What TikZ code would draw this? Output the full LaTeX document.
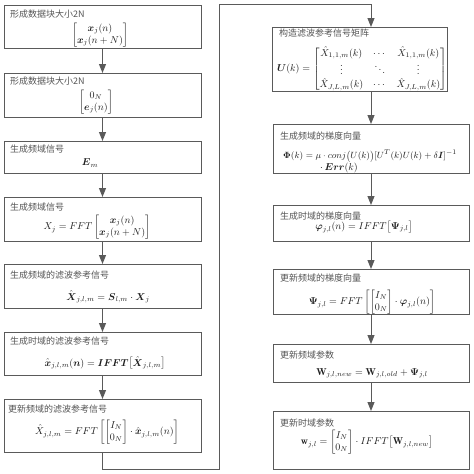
\documentclass[tikz,border=0pt]{standalone}
\usepackage{amsmath,amssymb}
\usepackage{fontspec}
\newfontfamily\cjk{Noto Sans CJK SC}
\usetikzlibrary{arrows.meta,calc}
\definecolor{lc}{RGB}{90,90,90}
\definecolor{tc}{RGB}{85,85,85}
\definecolor{fc}{RGB}{30,30,30}
\begin{document}
\begin{tikzpicture}[x=1pt,y=-1pt,
  box/.style={draw=lc, line width=1pt, anchor=north west, inner sep=0pt, outer sep=0pt, fill=white},
  ttl/.style={anchor=west, font=\cjk\fontsize{9}{10}\selectfont, text=tc, inner sep=0pt},
  fml/.style={text=fc, inner sep=0pt, font=\fontsize{10}{12}\selectfont},
  arr/.style={draw=lc, line width=1pt, -{Triangle[length=9pt,width=7pt]}}]
\useasboundingbox[fill=white] (0,0) rectangle (474,474);
% left column boxes
\node[box, minimum width=197pt, minimum height=43pt] (L1) at (4,5) {};
\node[box, minimum width=197pt, minimum height=44pt] (L2) at (4,73) {};
\node[box, minimum width=197pt, minimum height=32pt] (L3) at (4,141) {};
\node[box, minimum width=197pt, minimum height=44pt] (L4) at (4,197) {};
\node[box, minimum width=197pt, minimum height=44pt] (L5) at (4,264) {};
\node[box, minimum width=197pt, minimum height=43pt] (L6) at (4,332) {};
\node[box, minimum width=197pt, minimum height=53pt] (L7) at (4,399) {};
% right column boxes
\node[box, minimum width=175pt, minimum height=64pt] (R1) at (272,27) {};
\node[box, minimum width=196pt, minimum height=49pt] (R2) at (273,124) {};
\node[box, minimum width=196pt, minimum height=36pt] (R3) at (273,205) {};
\node[box, minimum width=196pt, minimum height=45pt] (R4) at (273,269) {};
\node[box, minimum width=196pt, minimum height=38pt] (R5) at (273,344) {};
\node[box, minimum width=196pt, minimum height=58pt] (R6) at (273,411) {};
% titles
\node[ttl] (tL1) at (10,14) {形成数据块大小2N};
\node[ttl] (tL2) at (10,81) {形成数据块大小2N};
\node[ttl] (tL3) at (10,149) {生成频域信号};
\node[ttl] (tL4) at (10,207) {生成频域信号};
\node[ttl] (tL5) at (10,275) {生成频域的滤波参考信号};
\node[ttl] (tL6) at (10,341) {生成时域的滤波参考信号};
\node[ttl] (tL7) at (8,409) {更新频域的滤波参考信号};
\node[ttl] (tR1) at (279,33) {构造滤波参考信号矩阵};
\node[ttl] (tR2) at (280,136) {生成频域的梯度向量};
\node[ttl] (tR3) at (280,216) {生成时域的梯度向量};
\node[ttl] (tR4) at (280,278) {更新频域的梯度向量};
\node[ttl] (tR5) at (280,355) {更新频域参数};
\node[ttl] (tR6) at (280,423) {更新时域参数};
% formulas
\node[fml] (fL1) at (100,35) {$\begin{bmatrix}\boldsymbol{x}_j(n)\\ \boldsymbol{x}_j(n+N)\end{bmatrix}$};
\node[fml] (fL2) at (96,102) {$\begin{bmatrix}0_N\\ \boldsymbol{e}_j(n)\end{bmatrix}$};
\node[fml] (fL3) at (90,163) {$\boldsymbol{E}_m$};
\node[fml] (fL4) at (97,227) {$X_j = FFT\begin{bmatrix}\boldsymbol{x}_j(n)\\ \boldsymbol{x}_j(n+N)\end{bmatrix}$};
\node[fml] (fL5) at (108,297) {$\hat{\boldsymbol{X}}_{j,l,m} = \boldsymbol{S}_{l,m}\cdot\boldsymbol{X}_j$};
\node[fml] (fL6) at (105,363) {$\hat{\boldsymbol{x}}_{j,l,m}(\boldsymbol{n}) = \boldsymbol{IFFT}\big[\hat{\boldsymbol{X}}_{j,l,m}\big]$};
\node[fml] (fL7) at (107,432) {$\hat{X}_{j,l,m} = FFT\left[\begin{bmatrix}I_N\\ 0_N\end{bmatrix}\cdot\hat{\boldsymbol{x}}_{j,l,m}(n)\right]$};
\node[fml] (fR1) at (362,69) {$\boldsymbol{U}(k) = \begin{bmatrix}\hat{X}_{1,1,m}(k) & \cdots & \hat{X}_{1,1,m}(k)\\ \vdots & \ddots & \vdots\\ \hat{X}_{J,L,m}(k) & \cdots & \hat{X}_{J,L,m}(k)\end{bmatrix}$};
\node[fml, font=\fontsize{9.5}{11}\selectfont] (fR2a) at (370,156) {$\boldsymbol{\Phi}(k) = \mu\cdot conj\big(U(k)\big)[U^T(k)U(k)+\delta\boldsymbol{I}]^{-1}$};
\node[fml, anchor=west] (fR2b) at (320,168) {$\cdot\,\boldsymbol{Err}(k)$};
\node[fml] (fR3) at (364,227) {$\boldsymbol{\varphi}_{j,l}(n) = IFFT\big[\boldsymbol{\Psi}_{j,l}\big]$};
\node[fml] (fR4) at (372,302) {$\boldsymbol{\Psi}_{j,l} = FFT\left[\begin{bmatrix}I_N\\ 0_N\end{bmatrix}\cdot\boldsymbol{\varphi}_{j,l}(n)\right]$};
\node[fml] (fR5) at (372,373) {$\boldsymbol{\mathrm{W}}_{j,l,new} = \boldsymbol{\mathrm{W}}_{j,l,old} + \boldsymbol{\Psi}_{j,l}$};
\node[fml] (fR6) at (367,442) {$\boldsymbol{\mathrm{w}}_{j,l} = \begin{bmatrix}I_N\\ 0_N\end{bmatrix}\cdot IFFT\big[\boldsymbol{\mathrm{W}}_{j,l,new}\big]$};
% connectors left
\draw[arr] (L1.south) -- (L2.north);
\draw[arr] (L2.south) -- (L3.north);
\draw[arr] (L3.south) -- (L4.north);
\draw[arr] (L4.south) -- (L5.north);
\draw[arr] (L5.south) -- (L6.north);
\draw[arr] (L6.south) -- (L7.north);
% return connector
\coordinate (c2) at (219,469);
\coordinate (c3) at (219,4);
\draw[arr] (L7.south) |- (c2) -- (c3) -| (R2.north |- R1.north);
% connectors right
\draw[arr] (R2.north |- R1.south) -- (R2.north);
\draw[arr] (R2.south) -- (R3.north);
\draw[arr] (R3.south) -- (R4.north);
\draw[arr] (R4.south) -- (R5.north);
\draw[arr] (R5.south) -- (R6.north);
\end{tikzpicture}
\end{document}
